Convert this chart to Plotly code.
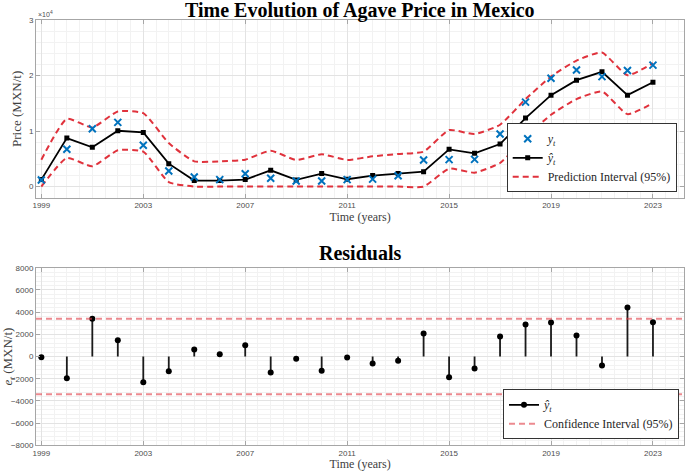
import plotly.graph_objects as go

# annual agave price (MXN/t)
years = list(range(1999, 2024))
price_obs = [1200, 6710, 10420, 11560, 7430, 2810, 1740, 1260, 2300, 1500,
             1000, 1000, 1250, 1350, 1950, 4800, 4850, 4900, 9460, 15210,
             19520, 21000, 19800, 20900, 21880]
price_fit = [1260, 8740, 7070, 10060, 9760, 4130, 1080, 1080, 1260, 2930,
             1200, 2340, 1320, 1980, 2340, 2690, 6710, 5990, 7660, 12340,
             16470, 19160, 20660, 16470, 18800]
pi_upper = [4850, 12200, 10660, 13530, 13230, 7840, 4550, 4550, 4850, 6470,
            4790, 5810, 4800, 5450, 5870, 6290, 10180, 9460, 11140, 15750,
            19820, 22690, 24130, 20060, 22220]
pi_lower = [0, 5150, 3650, 6530, 6290, 800, 0, 0, 0, 0,
            0, 0, 0, 0, 0, 0, 3230, 2510, 4250, 8860,
            12930, 15750, 17130, 13050, 15030]
residuals = [-60, -1950, 3390, 1470, -2310, -1320, 630, 210, 1020, -1440,
             -210, -1290, -90, -630, -390, 2070, -1860, -1080, 1800, 2880,
             3060, 1890, -810, 4410, 3090]
ci_bound = 3400

x_ticks = [1999, 2003, 2007, 2011, 2015, 2019, 2023]
price_ticks = [0, 10000, 20000, 30000]
price_ticktext = ['0', '1', '2', '3']
resid_ticks = list(range(-8000, 8001, 2000))

XLIM = [1998.79, 2024.23]
W, H = 685, 471

BLUE = '#0072BD'
RED = '#E0323C'
RED_LIGHT = 'rgba(224, 60, 70, 0.6)'
SERIF = 'Liberation Serif'
SANS = 'Liberation Sans'
TICK_COLOR = '#4d4d4d'
FRAME = '#a6a6a6'


def px_domain(top, bottom):
    return [1 - bottom / H, 1 - top / H]


def axis_style():
    return dict(
        automargin=False,
        showline=True,
        linecolor=FRAME,
        linewidth=1,
        mirror='ticks',
        ticks='inside',
        ticklen=4,
        tickcolor=FRAME,
        tickfont=dict(family=SANS, size=8, color=TICK_COLOR),
        showgrid=True,
        gridcolor='#e3e3e3',
        gridwidth=1,
        zeroline=False,
    )


fig = go.Figure()

# top panel: prices
fig.add_trace(go.Scatter(
    x=years, y=pi_upper, mode='lines', name='Prediction Interval (95%)',
    line=dict(color=RED, width=2, dash='6px,4px', shape='spline', smoothing=0.5),
    xaxis='x', yaxis='y', legend='legend', legendrank=3,
))
fig.add_trace(go.Scatter(
    x=years, y=pi_lower, mode='lines', showlegend=False,
    line=dict(color=RED, width=2, dash='6px,4px', shape='spline', smoothing=0.5),
    xaxis='x', yaxis='y',
))
fig.add_trace(go.Scatter(
    x=years, y=price_fit, mode='lines+markers',
    name='<i>ŷ</i><sub><i>t</i></sub>',
    line=dict(color='black', width=1.8),
    marker=dict(symbol='square', size=5, color='black'),
    xaxis='x', yaxis='y', legend='legend', legendrank=2,
))
fig.add_trace(go.Scatter(
    x=years, y=price_obs, mode='markers',
    name='<i>y</i><sub><i>t</i></sub>',
    marker=dict(symbol='x-thin-open', size=7, color=BLUE,
                line=dict(color=BLUE, width=2)),
    xaxis='x', yaxis='y', legend='legend', legendrank=1,
))

# bottom panel: residuals as stems
stem_x, stem_y = [], []
for yr, e in zip(years, residuals):
    stem_x += [yr, yr, None]
    stem_y += [0, e, None]

fig.add_trace(go.Scatter(
    x=stem_x, y=stem_y, mode='lines', showlegend=False,
    line=dict(color='#1a1a1a', width=1.8),
    xaxis='x2', yaxis='y2', hoverinfo='skip',
))
fig.add_trace(go.Scatter(
    x=years, y=residuals, mode='markers', showlegend=False,
    marker=dict(symbol='circle', size=6, color='black'),
    xaxis='x2', yaxis='y2',
))
# legend-only entry: stem line with a dot
fig.add_trace(go.Scatter(
    x=[None], y=[None], mode='lines+markers',
    name='<i>ŷ</i><sub><i>t</i></sub>',
    line=dict(color='black', width=1.8),
    marker=dict(symbol='circle', size=6, color='black'),
    xaxis='x2', yaxis='y2', legend='legend2', legendrank=1,
))
fig.add_trace(go.Scatter(
    x=XLIM, y=[ci_bound, ci_bound], mode='lines',
    name='Confidence Interval (95%)',
    line=dict(color=RED_LIGHT, width=2, dash='6px,4px'),
    xaxis='x2', yaxis='y2', legend='legend2', legendrank=2,
))
fig.add_trace(go.Scatter(
    x=XLIM, y=[-ci_bound, -ci_bound], mode='lines', showlegend=False,
    line=dict(color=RED_LIGHT, width=2, dash='6px,4px'),
    xaxis='x2', yaxis='y2',
))

x_dom = [36 / W, 684.3 / W]
title_font = dict(family=SERIF, size=13, color='#404040')
xtitle_font = dict(family=SERIF, size=12, color='#404040')

fig.update_layout(
    width=W,
    height=H,
    margin=dict(l=0, r=0, t=0, b=0, autoexpand=False),
    paper_bgcolor='white',
    plot_bgcolor='white',
    xaxis=dict(
        domain=x_dom, range=XLIM, tickvals=x_ticks, anchor='y',
        minor=dict(dtick=0.5, tick0=1999, showgrid=True, gridcolor='#f2f2f2'),
        title=dict(text='Time (years)', font=xtitle_font, standoff=2),
        **axis_style(),
    ),
    yaxis=dict(
        domain=px_domain(20, 197.7), range=[-2000, 30000],
        tickvals=price_ticks, ticktext=price_ticktext, anchor='x',
        minor=dict(dtick=2000, tick0=0, showgrid=True, gridcolor='#f2f2f2'),
        title=dict(text='Price (MXN/t)', font=title_font, standoff=4),
        **axis_style(),
    ),
    xaxis2=dict(
        domain=x_dom, range=XLIM, tickvals=x_ticks, anchor='y2',
        minor=dict(dtick=0.5, tick0=1999, showgrid=True, gridcolor='#f2f2f2'),
        title=dict(text='Time (years)', font=xtitle_font, standoff=2),
        **axis_style(),
    ),
    yaxis2=dict(
        domain=px_domain(267.7, 445.3), range=[-8000, 8000],
        tickvals=resid_ticks, anchor='x2',
        minor=dict(dtick=400, tick0=0, showgrid=True, gridcolor='#f2f2f2'),
        title=dict(text='<i>e</i><sub><i>t</i></sub> (MXN/t)', font=title_font, standoff=4),
        **axis_style(),
    ),
    legend=dict(
        x=676.7 / W, y=1 - 192.3 / H, xanchor='right', yanchor='bottom',
        bgcolor='white', bordercolor='#333333', borderwidth=1,
        font=dict(family=SERIF, size=12, color='#262626'),
        tracegroupgap=0, itemwidth=30,
    ),
    legend2=dict(
        x=679 / W, y=1 - 439.3 / H, xanchor='right', yanchor='bottom',
        bgcolor='white', bordercolor='#333333', borderwidth=1,
        font=dict(family=SERIF, size=12, color='#262626'),
        tracegroupgap=0, itemwidth=30,
    ),
    annotations=[
        dict(text='<b>Time Evolution of Agave Price in Mexico</b>',
             x=360 / W, y=1 - 11 / H, xref='paper', yref='paper',
             xanchor='center', yanchor='middle', showarrow=False,
             font=dict(family=SERIF, size=20, color='black')),
        dict(text='<b>Residuals</b>',
             x=360 / W, y=1 - 253 / H, xref='paper', yref='paper',
             xanchor='center', yanchor='middle', showarrow=False,
             font=dict(family=SERIF, size=20, color='black')),
        dict(text='×10<sup>4</sup>',
             x=36 / W, y=1 - 20 / H, xref='paper', yref='paper',
             xanchor='left', yanchor='bottom', showarrow=False,
             font=dict(family=SANS, size=7, color=TICK_COLOR)),
    ],
)

# page body has a default margin; drop it so the figure fills the window
fig.write_html(
    'out.html',
    config={'displayModeBar': False},
    post_script="document.body.style.margin='0';document.body.style.overflow='hidden';",
)
